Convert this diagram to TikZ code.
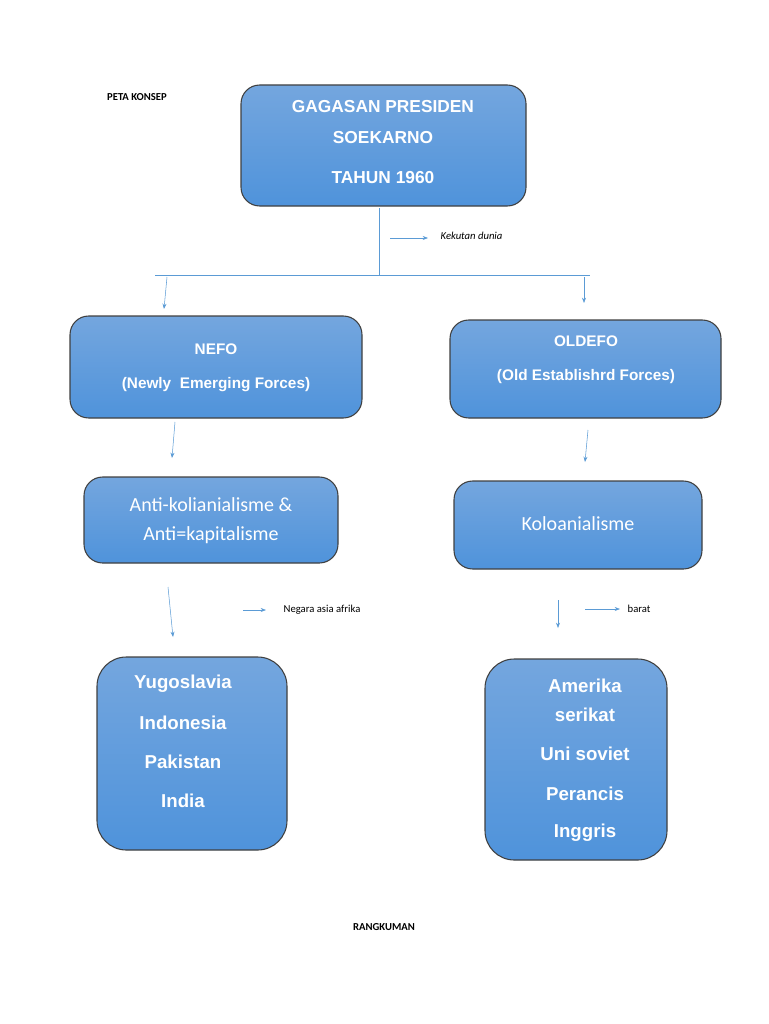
\documentclass[tikz,border=0pt]{standalone}
\usepackage{fontspec}
\setmainfont{Carlito}
\newfontfamily\boxfont{Liberation Sans}
\usetikzlibrary{arrows.meta}
\definecolor{boxtop}{HTML}{74A6DE}
\definecolor{boxbot}{HTML}{4F93DB}
\definecolor{linec}{HTML}{5B9BD5}
\tikzset{
  konsep/.style={draw=black!75, line width=0.8pt, rounded corners=14pt, top color=boxtop, bottom color=boxbot},
  judul/.style={text=white, font=\boxfont\bfseries\fontsize{13}{15}\selectfont, align=center},
  isi/.style={text=white, font=\fontsize{15}{17}\selectfont, align=center},
  ket/.style={font=\fontsize{8}{10}\selectfont, anchor=west},
  panah/.style={draw=linec, -{Stealth[length=4pt]}},
}
\begin{document}
\begin{tikzpicture}[x=0.75pt, y=-0.75pt]
\useasboundingbox (0,0) rectangle (768,1024);

\node[ket, font=\bfseries\fontsize{8}{10}\selectfont, anchor=center] (peta) at (137,97) {PETA KONSEP};
\node[ket, font=\bfseries\fontsize{8}{10}\selectfont, anchor=center] (rangkum) at (384,927) {RANGKUMAN};

% kotak utama
\draw[konsep] (241,85) rectangle (526,206);
\node[judul] (g1) at (383,107) {GAGASAN PRESIDEN};
\node[judul] (g2) at (383,138) {SOEKARNO};
\node[judul] (g3) at (383,178) {TAHUN 1960};

\draw[konsep] (70,316) rectangle (362,418);
\node[judul, font=\boxfont\bfseries\fontsize{11.5}{14}\selectfont] (n1) at (216,349) {NEFO};
\node[judul, font=\boxfont\bfseries\fontsize{11.5}{14}\selectfont] (n2) at (216,385) {(Newly\ \ Emerging Forces)};

\draw[konsep] (450,320) rectangle (721,418);
\node[judul, font=\boxfont\bfseries\fontsize{11.5}{14}\selectfont] (o1) at (586,341) {OLDEFO};
\node[judul, font=\boxfont\bfseries\fontsize{11.5}{14}\selectfont] (o2) at (586,377) {(Old Establishrd Forces)};

\draw[konsep] (84,477) rectangle (338,563);
\node[isi] (a1) at (211,505) {Anti-kolianialisme \&};
\node[isi] (a2) at (211,535) {Anti=kapitalisme};

\draw[konsep] (454,481) rectangle (702,569);
\node[isi] (k1) at (578,524) {Koloanialisme};

\draw[konsep, rounded corners=22pt] (97,657) rectangle (287,850);
\foreach \t/\y/\x in {Yugoslavia/684/183, Indonesia/723/183, Pakistan/762/183, India/801/183}
  \node[judul, font=\boxfont\bfseries\fontsize{14}{16}\selectfont] (\t) at (\x,\y) {\t};

\draw[konsep, rounded corners=22pt] (485,659) rectangle (667,860);
\node[judul, font=\boxfont\bfseries\fontsize{14}{16}\selectfont] (m1) at (585,686) {Amerika};
\node[judul, font=\boxfont\bfseries\fontsize{14}{16}\selectfont] (m2) at (585,715) {serikat};
\node[judul, font=\boxfont\bfseries\fontsize{14}{16}\selectfont] (m3) at (585,754) {Uni soviet};
\node[judul, font=\boxfont\bfseries\fontsize{14}{16}\selectfont] (m4) at (585,794) {Perancis};
\node[judul, font=\boxfont\bfseries\fontsize{14}{16}\selectfont] (m5) at (585,833) {Inggris};

% garis cabang
\coordinate (c0) at (379,208);
\coordinate (c1) at (379,275);
\coordinate (hl) at (155,275);
\coordinate (hr) at (590,275);
\draw[draw=linec] (c0) -- (c1) (hl) -- (hr);
\coordinate (p1) at (167,277); \coordinate (q1) at (164,309);
\coordinate (p2) at (584,277); \coordinate (q2) at (584,303);
\draw[panah] (p1) -- (q1);
\draw[panah] (p2) -- (q2);
\coordinate (s1) at (390,238); \coordinate (t1) at (428,238);
\draw[panah] (s1) -- (t1);
\node[ket, font=\itshape\fontsize{8}{10}\selectfont] (kd) at (436,236) {Kekutan dunia};

\coordinate (p3) at (175,422); \coordinate (q3) at (172,458);
\coordinate (p4) at (588,430); \coordinate (q4) at (585,462);
\coordinate (p5) at (168,587); \coordinate (q5) at (173,637);
\coordinate (p6) at (558,600); \coordinate (q6) at (558,628);
\draw[panah] (p3) -- (q3);
\draw[panah] (p4) -- (q4);
\draw[panah] (p5) -- (q5);
\draw[panah] (p6) -- (q6);

\coordinate (s2) at (243,610); \coordinate (t2) at (266,610);
\coordinate (s3) at (585,609); \coordinate (t3) at (620,609);
\draw[panah] (s2) -- (t2);
\draw[panah] (s3) -- (t3);
\node[ket] (naa) at (279,610) {Negara asia afrika};
\node[ket] (brt) at (623,609) {barat};
\end{tikzpicture}
\end{document}
